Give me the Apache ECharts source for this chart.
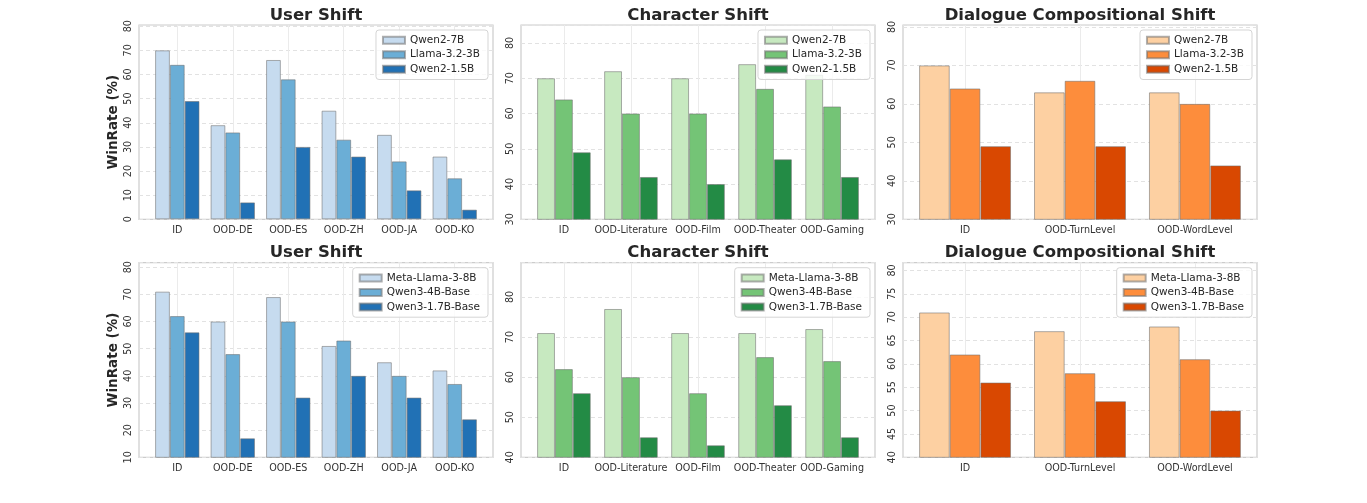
<!DOCTYPE html>
<html><head><meta charset="utf-8">
<script src="https://cdn.jsdelivr.net/npm/echarts@6/dist/echarts.min.js"></script>
<style>html,body{margin:0;padding:0;background:#fff}#c{width:1367px;height:503px}</style>
</head><body><div id="c"></div>
<script>
// ---------- data ----------
const userCats = ['ID', 'OOD-DE', 'OOD-ES', 'OOD-ZH', 'OOD-JA', 'OOD-KO'];
const charCats = ['ID', 'OOD-Literature', 'OOD-Film', 'OOD-Theater', 'OOD-Gaming'];
const dlgCats = ['ID', 'OOD-TurnLevel', 'OOD-WordLevel'];

const topModels = ['Qwen2-7B', 'Llama-3.2-3B', 'Qwen2-1.5B'];
const botModels = ['Meta-Llama-3-8B', 'Qwen3-4B-Base', 'Qwen3-1.7B-Base'];

const panelTitles = ['User Shift', 'Character Shift', 'Dialogue Compositional Shift'];

// top row
const topUserQwen7 = [70, 39, 66, 45, 35, 26];
const topUserLlama3 = [64, 36, 58, 33, 24, 17];
const topUserQwen15 = [49, 7, 30, 26, 12, 4];

const topCharQwen7 = [70, 72, 70, 74, 71];
const topCharLlama3 = [64, 60, 60, 67, 62];
const topCharQwen15 = [49, 42, 40, 47, 42];

const topDlgQwen7 = [70, 63, 63];
const topDlgLlama3 = [64, 66, 60];
const topDlgQwen15 = [49, 49, 44];

// bottom row
const botUserLlama8 = [71, 60, 69, 51, 45, 42];
const botUserQwen4 = [62, 48, 60, 53, 40, 37];
const botUserQwen17 = [56, 17, 32, 40, 32, 24];

const botCharLlama8 = [71, 77, 71, 71, 72];
const botCharQwen4 = [62, 60, 56, 65, 64];
const botCharQwen17 = [56, 45, 43, 53, 45];

const botDlgLlama8 = [71, 67, 68];
const botDlgQwen4 = [62, 58, 61];
const botDlgQwen17 = [56, 52, 50];

// y-axis ranges
const yMins = [0, 30, 30, 10, 40, 40];
const yMaxs = [80.5, 85.1, 80.5, 81.65, 88.55, 81.65];
const yIntervals = [10, 10, 10, 10, 10, 5];

const blues = ['#c6dbef', '#6baed6', '#2171b5'];
const greens = ['#c7e9c0', '#74c476', '#238b45'];
const oranges = ['#fdd0a2', '#fd8d3c', '#d94801'];

// ---------- layout ----------
const FONT = 'DejaVu Sans';
const W = 354;
const LEFTS = [139, 521, 903];
const TOPS = [25, 262.7];
const HEIGHTS = [194.3, 194.6];
const CW = 1367;

const panels = [
  { cats: userCats, models: topModels, vals: [topUserQwen7, topUserLlama3, topUserQwen15], colors: blues },
  { cats: charCats, models: topModels, vals: [topCharQwen7, topCharLlama3, topCharQwen15], colors: greens },
  { cats: dlgCats, models: topModels, vals: [topDlgQwen7, topDlgLlama3, topDlgQwen15], colors: oranges },
  { cats: userCats, models: botModels, vals: [botUserLlama8, botUserQwen4, botUserQwen17], colors: blues },
  { cats: charCats, models: botModels, vals: [botCharLlama8, botCharQwen4, botCharQwen17], colors: greens },
  { cats: dlgCats, models: botModels, vals: [botDlgLlama8, botDlgQwen4, botDlgQwen17], colors: oranges }
];

const grid = [], xAxis = [], yAxis = [], series = [], legend = [], title = [];

panels.forEach((p, i) => {
  const row = Math.floor(i / 3), col = i % 3;
  const L = LEFTS[col], T = TOPS[row], H = HEIGHTS[row];
  const n = p.cats.length;
  const span = (n - 0.2) * 1.1;       // matplotlib xlim span with 5% margins
  const s = W / span;                  // px per category
  const margin = (-0.1 + 0.05 * (n - 0.2)) * s;

  // frame grid
  const gF = grid.length;
  grid.push({ left: L, top: T, width: W, height: H, show: true, borderColor: '#cccccc', borderWidth: 1.2, backgroundColor: 'transparent' });
  xAxis.push({ gridIndex: gF, type: 'value', min: 0, max: 1, show: false });
  yAxis.push({
    gridIndex: gF, type: 'value', min: yMins[i], max: yMaxs[i], interval: yIntervals[i],
    axisLine: { show: false }, axisTick: { show: false },
    axisLabel: { rotate: 90, margin: 6, fontSize: 9.6, color: '#333', fontFamily: FONT, showMaxLabel: false },
    splitLine: { show: true, lineStyle: { color: '#e2e2e2', type: [4, 3], width: 1 } },
    name: col === 0 ? 'WinRate (%)' : '', nameLocation: 'middle', nameGap: 19,
    nameTextStyle: { fontSize: 13.5, fontWeight: 'bold', color: '#262626', fontFamily: FONT }
  });

  // data grid
  const gD = grid.length;
  grid.push({ left: L + margin, top: T, width: n * s, height: H });
  xAxis.push({
    gridIndex: gD, type: 'category', data: p.cats, boundaryGap: true,
    axisLine: { show: false },
    axisTick: { show: true, alignWithLabel: true, inside: true, length: H, lineStyle: { color: '#ebebeb', width: 1 } },
    axisLabel: { interval: 0, margin: 6, fontSize: 9.6, color: '#333', fontFamily: FONT, hideOverlap: false },
    splitLine: { show: false }
  });
  yAxis.push({ gridIndex: gD, type: 'value', min: yMins[i], max: yMaxs[i], show: false });

  const names = [];
  p.models.forEach((m, k) => {
    const nm = m + '#' + i;
    names.push(nm);
    series.push({
      type: 'bar', name: nm, xAxisIndex: gD, yAxisIndex: gD, data: p.vals[k],
      barGap: '0%', barCategoryGap: '20%',
      itemStyle: { color: p.colors[k], borderColor: 'rgba(110,110,110,0.55)', borderWidth: 1 },
      emphasis: { disabled: true }, silent: true
    });
  });

  legend.push({
    data: names, orient: 'vertical', right: CW - (L + W - 5), top: T + 5,
    itemWidth: 22, itemHeight: 7, itemGap: 0, padding: [3, 8, 3, 6], icon: 'rect',
    textStyle: { fontSize: 10.5, color: '#262626', lineHeight: 14.5, fontFamily: FONT },
    backgroundColor: 'rgba(255,255,255,0.8)', borderColor: '#d5d5d5', borderWidth: 1, borderRadius: 3,
    formatter: nm => nm.split('#')[0], selectedMode: false
  });

  title.push({
    text: panelTitles[col], left: L + W / 2, top: row === 0 ? 5.5 : 243.2, textAlign: 'center', padding: 0,
    textStyle: { fontSize: 16.5, fontWeight: 'bold', color: '#262626', fontFamily: FONT, lineHeight: 20 }
  });
});

const chart = echarts.init(document.getElementById('c'), null, { renderer: 'canvas' });
chart.setOption({
  animation: false, backgroundColor: '#ffffff',
  textStyle: { fontFamily: FONT },
  title, grid, xAxis, yAxis, series, legend
});
</script></body></html>
